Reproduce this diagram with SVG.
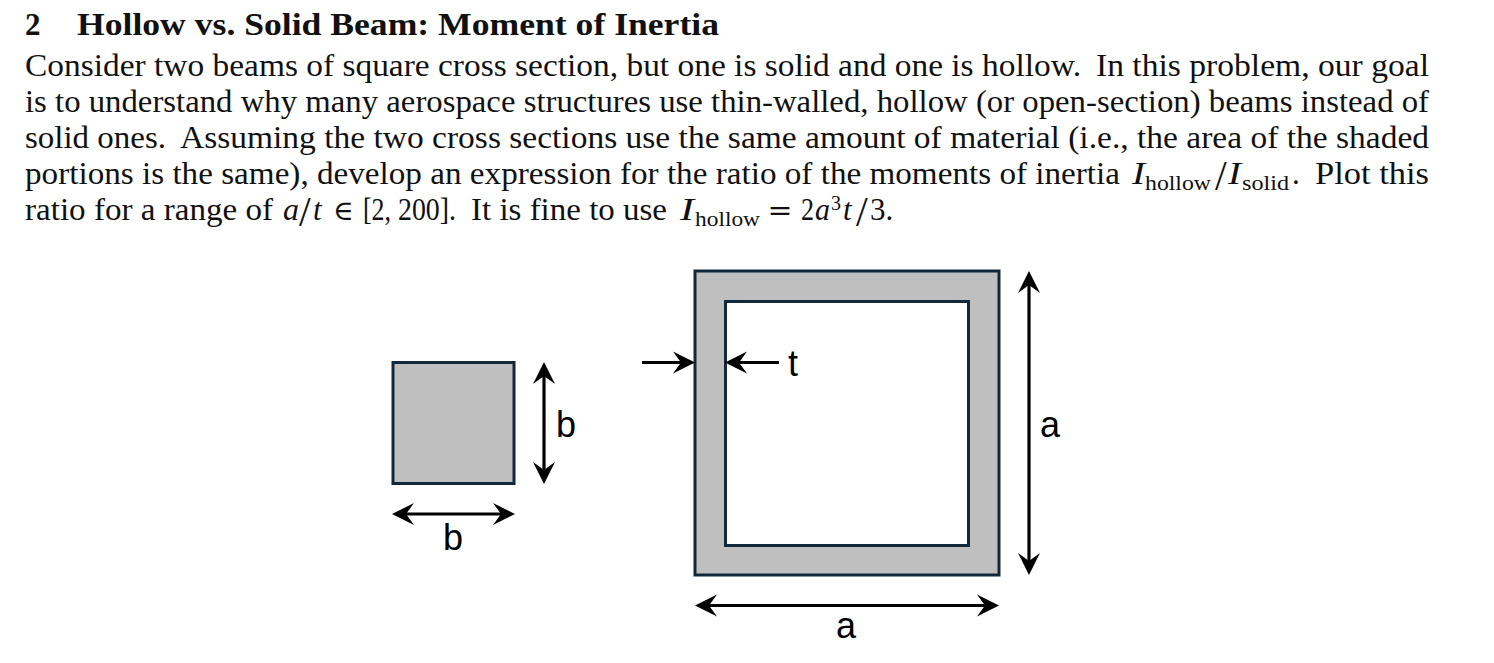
<svg xmlns="http://www.w3.org/2000/svg" width="1494" height="663" viewBox="0 0 1494 663">
<style>
text{font-family:"Liberation Serif",serif;font-size:31px;fill:#111}
.h{font-weight:bold;font-size:31px}
.i{font-style:italic}
.s{font-size:22px}
.t{font-size:20px}
.sl{font-size:42px}
.sy{font-family:"DejaVu Serif",serif;font-size:28px}
.l{font-family:"Liberation Sans",Arial,sans-serif;font-size:36px;fill:#000;text-anchor:middle}
.sec{fill:#bfbfbf;stroke:#12293b;stroke-width:3}
.hole{fill:#fff;stroke:#12293b;stroke-width:3}
.ar{fill:none;stroke:#000;stroke-width:3.2;marker-start:url(#ah);marker-end:url(#ah)}
.one{fill:none;stroke:#000;stroke-width:3.2;marker-end:url(#ah)}
</style>
<defs>
<marker id="ah" markerUnits="userSpaceOnUse" markerWidth="22" markerHeight="24" viewBox="0 0 22 24" refX="8" refY="12" orient="auto-start-reverse">
<path d="M0,1 L22,12 L0,23 L8,12 Z" fill="#000"/>
</marker>
</defs>
<rect width="1494" height="663" fill="#fff"/>
<g id="problem-text">
<text class="h" x="25" y="35">2</text>
<text class="h" x="77" y="35" textLength="642" lengthAdjust="spacingAndGlyphs">Hollow vs. Solid Beam: Moment of Inertia</text>
<text x="25" y="76" textLength="1056" lengthAdjust="spacingAndGlyphs">Consider two beams of square cross section, but one is solid and one is hollow.</text>
<text x="1096" y="76" textLength="333" lengthAdjust="spacingAndGlyphs">In this problem, our goal</text>
<text x="25" y="112" textLength="1404" lengthAdjust="spacingAndGlyphs">is to understand why many aerospace structures use thin-walled, hollow (or open-section) beams instead of</text>
<text x="25" y="148" textLength="141" lengthAdjust="spacingAndGlyphs">solid ones.</text>
<text x="180" y="148" textLength="1249" lengthAdjust="spacingAndGlyphs">Assuming the two cross sections use the same amount of material (i.e., the area of the shaded</text>
<text x="25" y="184" textLength="1095" lengthAdjust="spacingAndGlyphs">portions is the same), develop an expression for the ratio of the moments of inertia</text>
<text class="i" x="1132" y="184" textLength="13" lengthAdjust="spacingAndGlyphs">I</text>
<text class="s" x="1145" y="190" textLength="66" lengthAdjust="spacingAndGlyphs">hollow</text>
<text class="sl" x="1215" y="190">/</text>
<text class="i" x="1228" y="184" textLength="13" lengthAdjust="spacingAndGlyphs">I</text>
<text class="s" x="1242" y="190" textLength="47" lengthAdjust="spacingAndGlyphs">solid</text>
<text x="1292" y="184">.</text>
<text x="1315" y="184" textLength="114" lengthAdjust="spacingAndGlyphs">Plot this</text>
<text x="25" y="220" textLength="248" lengthAdjust="spacingAndGlyphs">ratio for a range of</text>
<text class="i" x="283" y="220" textLength="16" lengthAdjust="spacingAndGlyphs">a</text>
<text class="sl" x="299" y="226">/</text>
<text class="i" x="313" y="220">t</text>
<text class="sy" x="333" y="220">∈</text>
<text x="363" y="220" textLength="28" lengthAdjust="spacingAndGlyphs">[2,</text>
<text x="398" y="220" textLength="58" lengthAdjust="spacingAndGlyphs">200].</text>
<text x="471" y="220" textLength="196" lengthAdjust="spacingAndGlyphs">It is fine to use</text>
<text class="i" x="680" y="220" textLength="14" lengthAdjust="spacingAndGlyphs">I</text>
<text class="s" x="695" y="226" textLength="65" lengthAdjust="spacingAndGlyphs">hollow</text>
<text class="sy" x="767.5" y="220" textLength="25" lengthAdjust="spacingAndGlyphs">=</text>
<text x="801" y="220" textLength="13" lengthAdjust="spacingAndGlyphs">2</text>
<text class="i" x="815" y="220" textLength="15" lengthAdjust="spacingAndGlyphs">a</text>
<text class="t" x="831" y="210">3</text>
<text class="i" x="843" y="220">t</text>
<text class="sl" x="856" y="226">/</text>
<text x="870" y="220">3.</text>
</g>
<g id="solid-section">
<rect class="sec" x="393" y="362.5" width="121" height="121"/>
<text class="l" x="453" y="550">b</text>
<text class="l" x="566" y="437">b</text>
</g>
<g id="hollow-section">
<rect class="sec" x="695" y="271" width="304" height="304"/>
<rect class="hole" x="725.5" y="301.5" width="243" height="244"/>
<text class="l" x="846" y="638">a</text>
<text class="l" x="1050" y="437">a</text>
<text class="l" x="793" y="376">t</text>
</g>
<g id="connectors">
<line class="ar" x1="544" y1="376" x2="544" y2="470"/>
<line class="ar" x1="406" y1="514" x2="501" y2="514"/>
<line class="ar" x1="1029" y1="285" x2="1029" y2="561"/>
<line class="ar" x1="709" y1="605.5" x2="985" y2="605.5"/>
<line class="one" x1="642" y1="362.5" x2="681" y2="362.5"/>
<line class="one" x1="779" y1="362.5" x2="739" y2="362.5"/>
</g>
</svg>
